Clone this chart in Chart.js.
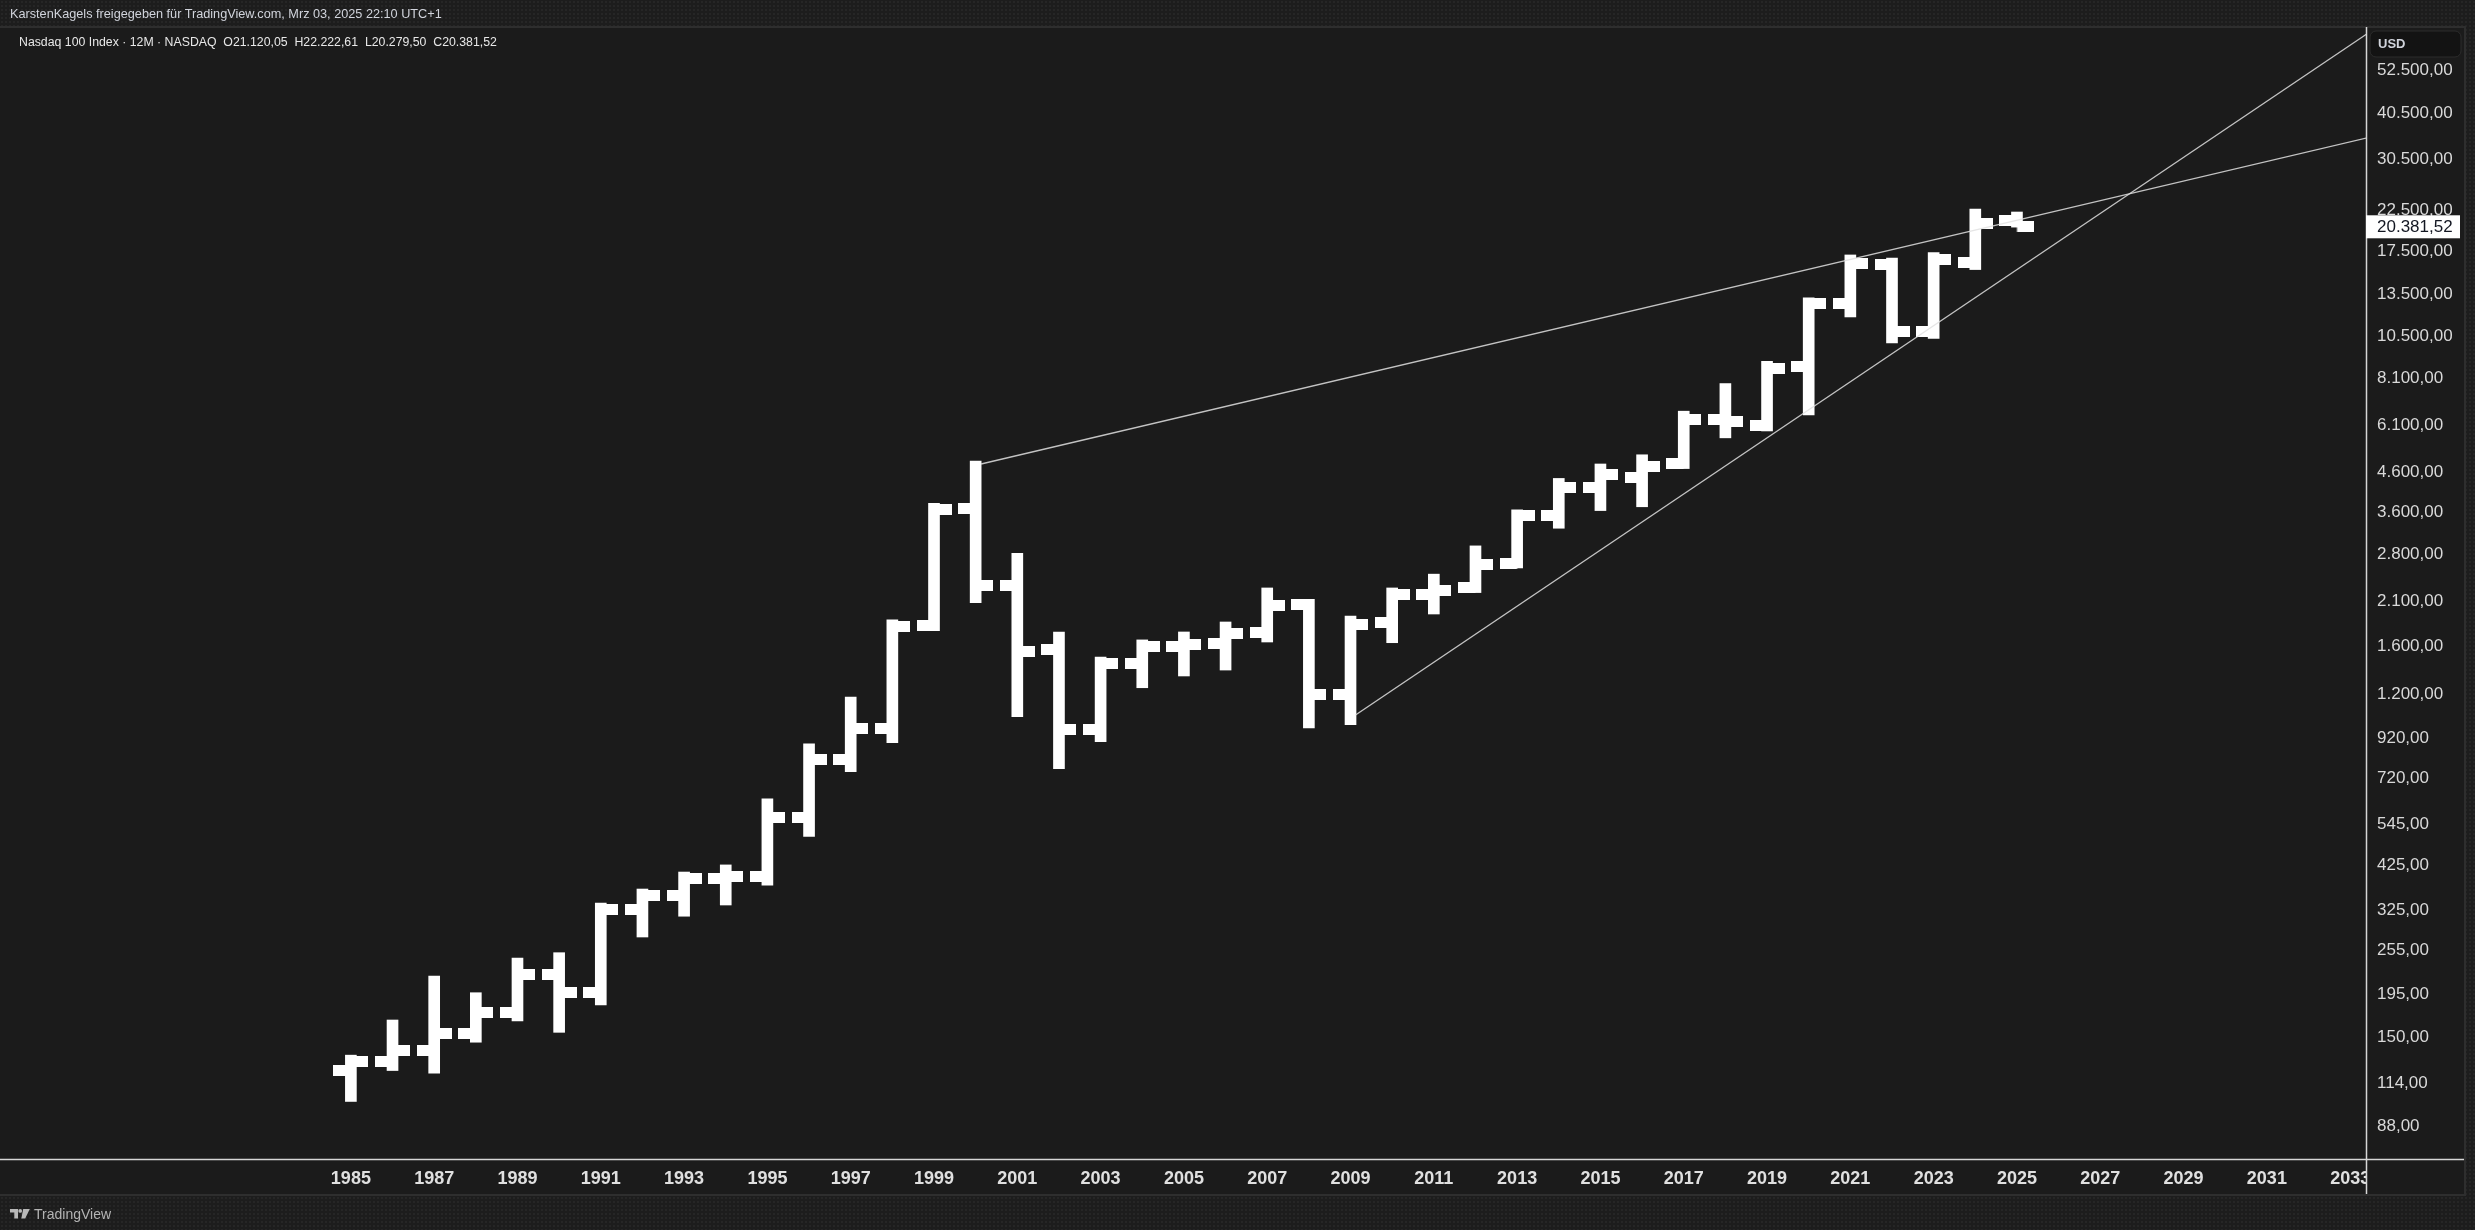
<!DOCTYPE html>
<html>
<head>
<meta charset="utf-8">
<script src="https://cdn.jsdelivr.net/npm/chart.js@4.4.1/dist/chart.umd.min.js"></script>
<style>
  html, body { margin: 0; padding: 0; }
  body {
    width: 2475px; height: 1230px; overflow: hidden; position: relative;
    background-color: #1d1d1d;
    background-image: radial-gradient(#262626 0.8px, transparent 1px);
    background-size: 4px 4px;
    font-family: "Liberation Sans", Arial, sans-serif;
  }
  #chart { position: absolute; left: 0; top: 0; }
  .hdr { position: absolute; left: 10px; top: 7px; font-size: 12.7px; color: #d1d4dc; white-space: pre; }
  .legend { position: absolute; left: 19px; top: 35px; font-size: 12.3px; color: #e8e8e8; white-space: pre; }
  .foot { position: absolute; left: 10px; top: 1206px; font-size: 14px; color: #b4b4b4; display: flex; align-items: center; gap: 4px; }
</style>
</head>
<body>
<canvas id="chart" width="2475" height="1230"></canvas>
<div class="hdr">KarstenKagels freigegeben für TradingView.com, Mrz 03, 2025 22:10 UTC+1</div>
<div class="legend" id="legend"></div>
<div class="foot">
  <svg width="20" height="10" viewBox="0 0 20 10"><path d="M0 0h8v9.5H4.3V3.6H0z" fill="#b8b8b8"/><circle cx="10.2" cy="1.9" r="1.9" fill="#b8b8b8"/><path d="M13.2 0h6.6l-4.6 9.5h-3.9z" fill="#b8b8b8"/></svg>
  <span>TradingView</span>
</div>
<script>
// Jahreskerzen Nasdaq 100 (12M)
const years = [1985, 1986, 1987, 1988, 1989, 1990, 1991, 1992, 1993, 1994,
  1995, 1996, 1997, 1998, 1999, 2000, 2001, 2002, 2003, 2004,
  2005, 2006, 2007, 2008, 2009, 2010, 2011, 2012, 2013, 2014,
  2015, 2016, 2017, 2018, 2019, 2020, 2021, 2022, 2023, 2024, 2025];
const opens = [123, 130, 139, 154, 175, 220, 197, 326, 355, 393,
  398, 570, 807, 978, 1817, 3690, 2320, 1570, 970, 1447,
  1605, 1630, 1742, 2060, 1197, 1855, 2200, 2290, 2640, 3538,
  4200, 4450, 4850, 6327, 6120, 8730, 12741, 16210, 10802, 16420, 21120.05];
const highs = [135, 167, 218, 197, 243, 251, 339, 369, 409, 427,
  637, 888, 1180, 1881, 3813, 4923, 2816, 1749, 1503, 1667,
  1749, 1858, 2283, 2132, 1927, 2283, 2482, 2945, 3663, 4430,
  4835, 5112, 6656, 7867, 9000, 13218, 17135, 16827, 17375, 22621, 22222.61];
const lows = [102, 123, 121, 146, 166, 155, 183, 276, 313, 335,
  378, 507, 751, 895, 1763, 2089, 1047, 765, 901, 1248,
  1340, 1389, 1646, 978, 998, 1639, 1950, 2220, 2577, 3277,
  3647, 3732, 4703, 5664, 5905, 6505, 11774, 10058, 10345, 15686, 20279.50];
const closes = [130, 139, 154, 175, 220, 197, 326, 355, 393, 398,
  570, 807, 978, 1810, 3667, 2320, 1556, 970, 1447, 1600,
  1625, 1736, 2056, 1197, 1832, 2195, 2246, 2630, 3538, 4200,
  4524, 4760, 6327, 6260, 8610, 12741, 16320, 10757, 16663, 20771, 20381.52];

// Achsenbeschriftungen
const yearTicks = [1985, 1987, 1989, 1991, 1993, 1995, 1997, 1999, 2001, 2003, 2005, 2007, 2009,
  2011, 2013, 2015, 2017, 2019, 2021, 2023, 2025, 2027, 2029, 2031, 2033];
const priceTicks = [88, 114, 150, 195, 255, 325, 425, 545, 720, 920, 1200, 1600, 2100, 2800,
  3600, 4600, 6100, 8100, 10500, 13500, 17500, 22500, 30500, 40500, 52500];

// Trendlinien [Jahr, Kurs]
const upperLine = [[2000.13, 4834], [2033.4, 34800]];
const lowerLine = [[2009.12, 1058], [2033.4, 65300]];

const FONT = '"Liberation Sans", Arial, sans-serif';
const BAR_W = 11, TICK_LEN = 12, TICK_H = 11;

function fmt(v) {
  const parts = v.toFixed(2).split('.');
  return parts[0].replace(/\B(?=(\d{3})+(?!\d))/g, '.') + ',' + parts[1];
}

const last = years.length - 1;
document.getElementById('legend').textContent =
  'Nasdaq 100 Index · 12M · NASDAQ  O' + fmt(opens[last]) + '  H' + fmt(highs[last]) +
  '  L' + fmt(lows[last]) + '  C' + fmt(closes[last]);

// Punktsymbole für Eröffnung (links) und Schluss (rechts)
function makeTick(side) {
  const c = document.createElement('canvas');
  c.width = 2 * (BAR_W / 2 + TICK_LEN);
  c.height = TICK_H;
  const ctx = c.getContext('2d');
  ctx.fillStyle = '#ffffff';
  if (side === 'left') ctx.fillRect(0, 0, c.width / 2, TICK_H);
  else ctx.fillRect(c.width / 2, 0, c.width / 2, TICK_H);
  return c;
}
const openTick = makeTick('left');
const closeTick = makeTick('right');

const PANE = { left: 0, top: 27, right: 2465, bottom: 1195 };

const panePlugin = {
  id: 'pane',
  beforeDraw(chart) {
    const ctx = chart.ctx;
    ctx.save();
    ctx.fillStyle = '#1b1b1b';
    ctx.fillRect(PANE.left, PANE.top, PANE.right - PANE.left, PANE.bottom - PANE.top);
    ctx.restore();
  },
  afterDatasetsDraw(chart) {
    // Preisachse überdeckt abgeschnittene Zeitlabels
    const ctx = chart.ctx;
    const a = chart.chartArea;
    ctx.save();
    ctx.fillStyle = '#1b1b1b';
    ctx.fillRect(a.right, PANE.top, PANE.right - a.right, PANE.bottom - PANE.top);
    ctx.restore();
  },
  afterDraw(chart) {
    const ctx = chart.ctx;
    const a = chart.chartArea;
    const y = chart.scales.y;
    ctx.save();
    // Rahmen
    ctx.strokeStyle = '#2e2e2e';
    ctx.lineWidth = 2;
    ctx.strokeRect(PANE.left - 2, PANE.top, PANE.right - PANE.left + 2, PANE.bottom - PANE.top);
    // Achsenlinien
    ctx.strokeStyle = '#d6d6d6';
    ctx.lineWidth = 1.5;
    ctx.beginPath();
    ctx.moveTo(0, a.bottom + 0.5);
    ctx.lineTo(PANE.right - 1, a.bottom + 0.5);
    ctx.moveTo(a.right + 0.5, PANE.top);
    ctx.lineTo(a.right + 0.5, PANE.bottom - 1);
    ctx.stroke();
    // USD Feld
    ctx.fillStyle = '#131313';
    ctx.strokeStyle = '#2c2c2c';
    ctx.lineWidth = 1;
    ctx.beginPath();
    ctx.roundRect(a.right + 4, 31, 91, 26, 6);
    ctx.fill();
    ctx.stroke();
    ctx.fillStyle = '#d1d4dc';
    ctx.font = 'bold 13px ' + FONT;
    ctx.textBaseline = 'middle';
    ctx.fillText('USD', a.right + 12, 44.5);
    // aktueller Kurs
    const py = y.getPixelForValue(closes[last]);
    ctx.fillStyle = '#ffffff';
    ctx.fillRect(a.right, py - 11, 94, 23);
    ctx.fillStyle = '#131722';
    ctx.font = '17px ' + FONT;
    ctx.fillText(fmt(closes[last]), a.right + 11, py + 1);
    ctx.restore();
  }
};

const pts = (arr) => years.map((yr, i) => ({ x: yr, y: arr[i] }));

new Chart(document.getElementById('chart'), {
  type: 'line',
  data: {
    datasets: [
      {
        type: 'line',
        data: upperLine.map(p => ({ x: p[0], y: p[1] })),
        borderColor: 'rgba(225,225,225,0.85)',
        borderWidth: 1.4,
        pointRadius: 0,
        order: 0
      },
      {
        type: 'line',
        data: lowerLine.map(p => ({ x: p[0], y: p[1] })),
        borderColor: 'rgba(225,225,225,0.85)',
        borderWidth: 1.4,
        pointRadius: 0,
        order: 0
      },
      {
        type: 'bar',
        data: years.map((yr, i) => ({ x: yr, y: [lows[i], highs[i]] })),
        backgroundColor: '#ffffff',
        borderWidth: 0,
        barThickness: BAR_W,
        order: 1
      },
      {
        type: 'scatter',
        data: pts(opens),
        pointStyle: openTick,
        pointRadius: 5,
        order: 1
      },
      {
        type: 'scatter',
        data: pts(closes),
        pointStyle: closeTick,
        pointRadius: 5,
        order: 1
      }
    ]
  },
  options: {
    responsive: false,
    devicePixelRatio: 1,
    animation: false,
    layout: { padding: { left: 0, top: 27, right: 11, bottom: 36 } },
    plugins: { legend: { display: false }, tooltip: { enabled: false } },
    scales: {
      x: {
        type: 'linear',
        min: 1976.72,
        max: 2033.38,
        bounds: 'data',
        offset: false,
        grid: { display: false, drawTicks: false },
        border: { display: false },
        afterFit(scale) { scale.height = 35; },
        afterBuildTicks(scale) { scale.ticks = yearTicks.map(v => ({ value: v })); },
        ticks: {
          autoSkip: false,
          maxRotation: 0,
          padding: 9,
          color: '#e0e0e0',
          font: { family: FONT, size: 18, weight: 'bold' },
          callback: (v) => String(v)
        }
      },
      y: {
        type: 'logarithmic',
        position: 'right',
        min: 72,
        max: 68100,
        bounds: 'data',
        grid: { display: false, drawTicks: false },
        border: { display: false },
        afterFit(scale) { scale.width = 98; },
        afterBuildTicks(scale) { scale.ticks = priceTicks.map(v => ({ value: v })); },
        ticks: {
          z: 1,
          autoSkip: false,
          crossAlign: 'near',
          padding: 11,
          color: '#d9d9d9',
          font: { family: FONT, size: 17 },
          callback: (v) => fmt(Number(v))
        }
      }
    }
  },
  plugins: [panePlugin]
});
</script>
</body>
</html>
